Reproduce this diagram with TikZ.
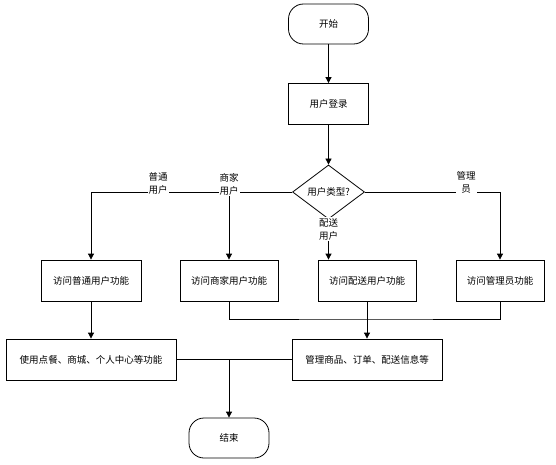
\documentclass[tikz,border=0pt]{standalone}
\usepackage{fontspec}
\newfontfamily\cjk{Noto Sans CJK SC}
\usetikzlibrary{arrows.meta,positioning,shapes.geometric}

\begin{document}
\begin{tikzpicture}[x=1pt, y=-1pt,
    box/.style={draw, minimum height=41pt, align=center,
                font=\cjk\fontsize{9.5}{12}\selectfont, inner sep=2pt},
    term/.style={box, rounded corners=15pt, minimum width=80pt, minimum height=40pt},
    choice/.style={draw, diamond, minimum width=72pt, minimum height=54pt,
                   inner sep=0pt, font=\cjk\fontsize{9.5}{12}\selectfont},
    lbl/.style={fill=white, align=center, inner sep=1pt,
                font=\cjk\fontsize{9.5}{13}\selectfont},
    arr/.style={-{Triangle[length=6pt, width=6pt]}},
    line width=0.8pt
]
\useasboundingbox (0,0) rectangle (556,465);
% Start -> login -> user type
\node[term] (start) at (328.5,24) {开始};
\node[box, minimum width=80pt] (login) at (328.5,104) {用户登录};
\node[choice] (utype) at (328.5,192) {用户类型?};
% Row 3: one box per user type
\node[box, minimum width=100pt] (ordinary) at (91,280.5) {访问普通用户功能};
\node[box, minimum width=98pt] (merchant) at (229,280.5) {访问商家用户功能};
\node[box, minimum width=98pt] (delivery) at (367,280.5) {访问配送用户功能};
\node[box, minimum width=88pt] (admin) at (500,280.5) {访问管理员功能};
% Row 4: functions, then end
\node[box, minimum width=170pt] (usefn) at (91,359.5) {使用点餐、商城、个人中心等功能};
\node[box, minimum width=150pt] (manage) at (367,359.5) {管理商品、订单、配送信息等};
\node[term] (stop) at (229,438) {结束};
% Arrows
\draw[arr] (start) -- (login);
\draw[arr] (login) -- (utype);
\draw[arr] (utype.west) -| (ordinary.north);
\draw[arr] (utype.west) -| (merchant.north);
\draw[arr] (utype.east) -| (admin.north);
\draw[arr] (utype.south) -- (utype.south |- delivery.north);
\coordinate (join) at (delivery.south |- 0,319);
\draw (merchant.south) |- (join) -| (admin.south);
\draw[arr] (delivery.south) -- (manage.north);
\draw[arr] (ordinary.south) -- (usefn.north);
\draw (usefn.east) -- (manage.west);
\coordinate (meet) at (stop.north |- usefn.east);
\draw[arr] (meet) -- (stop.north);
% Branch labels
\node[lbl] (lordinary) at (158,183) {普通\\用户};
\node[lbl] (lmerchant) at (229,184) {商家\\用户};
\node[lbl] (ladmin) at (466,182) {管理\\员};
\node[lbl] (ldelivery) at (328.5,229) {配送\\用户};
\end{tikzpicture}
\end{document}
